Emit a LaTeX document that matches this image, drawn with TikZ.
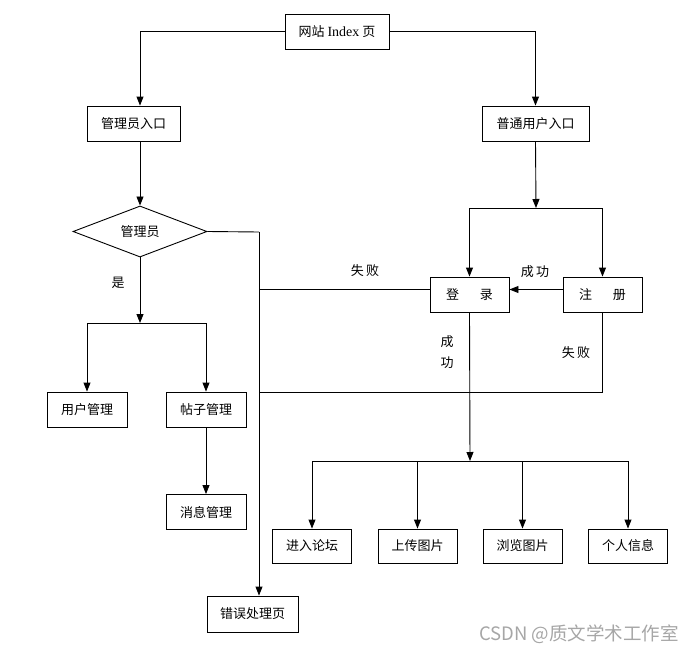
\documentclass[tikz,border=0pt]{standalone}
\usepackage{fontspec}
\setmainfont{Noto Sans CJK SC}
\newfontfamily\latinfont{Liberation Serif}
\usetikzlibrary{arrows.meta,shapes.geometric}
\tikzset{
	box/.style={draw,line width=0.9pt,minimum width=79pt,minimum height=35pt,inner sep=0pt,font=\fontsize{13}{15}\selectfont},
	lbl/.style={font=\fontsize{13}{15}\selectfont},
	arr/.style={-{Triangle[length=9pt,width=7pt]}},
	every path/.style={line width=0.9pt}
}
\begin{document}
\begin{tikzpicture}[x=1pt,y=-1pt]
					\useasboundingbox (0,0) rectangle (699,653);
					\node[box,minimum width=104pt] (index) at (337,31.5) {网站 {\latinfont\fontsize{14}{15}\selectfont Index} 页};
					\node[box,minimum width=93pt] (admin) at (133.5,123.5) {管理员入口};
					\node[box,minimum width=107pt] (user) at (535.5,123.5) {普通用户入口};
					\node[box,diamond,minimum width=134pt,minimum height=45pt] (isadmin) at (140,231.5) {管理员};
					\node[box] (login) at (469.5,294.5) {登\hspace{1.6em}录};
					\node[box] (reg) at (602.5,294.5) {注\hspace{1.6em}册};
					\node[box,minimum width=80pt] (uman) at (87,409.5) {用户管理};
					\node[box,minimum width=80pt] (post) at (206,409.5) {帖子管理};
					\node[box,minimum width=80pt] (msg) at (206,512) {消息管理};
					\node[box,minimum width=91pt,minimum height=36pt] (err) at (252.5,614) {错误处理页};
					\node[box,minimum height=34pt] (forum) at (312,546) {进入论坛};
					\node[box,minimum height=34pt] (upload) at (417.5,546) {上传图片};
					\node[box,minimum height=34pt] (browse) at (522.5,546) {浏览图片};
					\node[box,minimum height=34pt] (info) at (628,546) {个人信息};
					\coordinate (ufork) at (536,208);
					\coordinate (afork) at (140,323);
					\coordinate (lfork) at (470,461);
					\coordinate (errline) at (259,232);
					\coordinate (failline) at (259,392);
					\draw[arr] (index.west) -| (isadmin.north |- admin.north);
					\draw[arr] (index.east) -| (user.north);
					\draw[arr] (isadmin.north |- admin.south) -- (isadmin.north);
					\draw[arr] (user.south) -- (ufork);
					\draw (ufork -| login) -- (ufork -| reg);
					\draw[arr] (ufork -| login) -- (login.north);
					\draw[arr] (ufork -| reg) -- (reg.north);
					\draw[arr] ([yshift=5pt]reg.west) -- ([yshift=5pt]login.east);
					\draw ([yshift=5pt]login.west) -- ([yshift=5pt]login.west -| errline);
					\draw (isadmin.east) -- (errline);
					\draw[arr] (errline) -- (err.north -| errline);
					\draw (reg.south) |- (failline);
					\draw[arr] (login.south) -- (lfork);
					\draw (lfork -| forum) -- (lfork -| info);
					\foreach \n in {forum,upload,browse,info}
						\draw[arr] (lfork -| \n) -- (\n.north);
					\draw[arr] (isadmin.south) -- (afork);
					\draw (afork -| uman) -- (afork -| post);
					\draw[arr] (afork -| uman) -- (uman.north);
					\draw[arr] (afork -| post) -- (post.north);
					\draw[arr] (post.south) -- (msg.north);
					\node[lbl] (fail1) at (365,271) {失\,败};
					\node[lbl] (ok1) at (535,272) {成\,功};
					\node[lbl] (ok2a) at (447,342) {成};
					\node[lbl] (ok2b) at (447,363) {功};
					\node[lbl] (fail2) at (576,353) {失\,败};
					\node[lbl] (yes) at (118,283) {是};
					\node[text=gray!70,font=\fontsize{18.5}{20}\selectfont] (mark) at (579,634) {CSDN @质文学术工作室};
\end{tikzpicture}
\end{document}
